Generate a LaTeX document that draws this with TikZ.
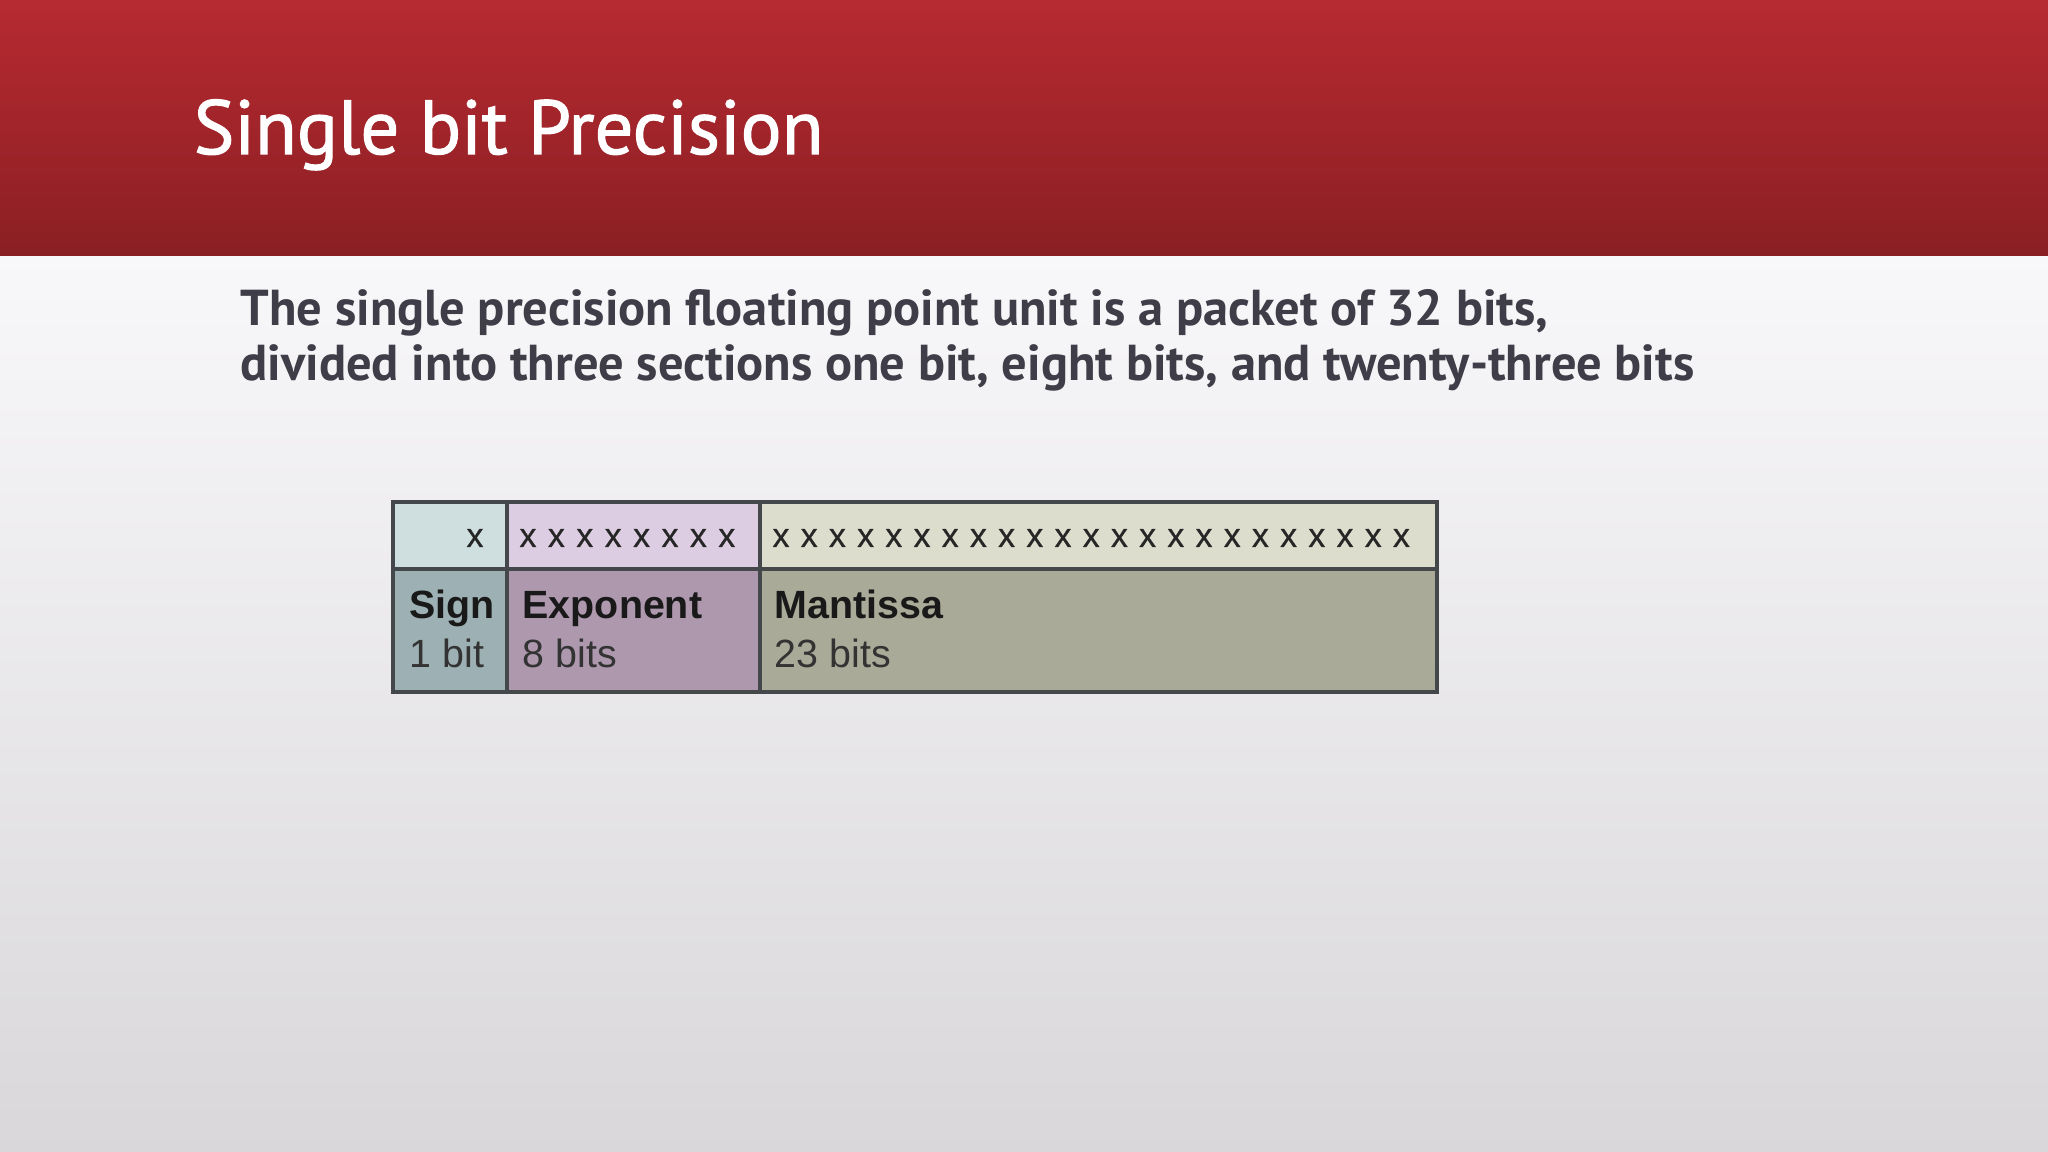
\documentclass[tikz,border=0pt]{standalone}
\usepackage{fontspec}
\setmainfont{Liberation Sans}
\newfontfamily\slidefont{PT Sans}

\definecolor{bandtop}{HTML}{B72A31}
\definecolor{bandbot}{HTML}{8A1F23}
\definecolor{pagetop}{HTML}{F8F7F9}
\definecolor{pagebot}{HTML}{D9D7D9}
\definecolor{bodytext}{HTML}{3E3D48}
\definecolor{signlt}{HTML}{CFDEDF}
\definecolor{explt}{HTML}{DDCDE2}
\definecolor{mantlt}{HTML}{DDDDCE}
\definecolor{signdk}{HTML}{9DB0B3}
\definecolor{expdk}{HTML}{AD98AE}
\definecolor{mantdk}{HTML}{AAAA98}
\definecolor{gridline}{HTML}{45484A}

\tikzset{
  bodyline/.style={anchor=base west,inner sep=0pt,text=bodytext,
    font=\slidefont\bfseries\fontsize{14.35}{18}\selectfont},
  bitx/.style={inner sep=0pt,text=black!85,
    font=\fontsize{9.6}{11}\selectfont\addfontfeature{FakeBold=0.6}},
  fieldname/.style={anchor=base west,inner sep=0pt,text=black!90,
    font=\bfseries\fontsize{11.2}{13}\selectfont},
  fieldsize/.style={anchor=base west,inner sep=0pt,text=black!80,
    font=\fontsize{11.2}{13}\selectfont},
  gridline/.style={draw=gridline,line width=0.035cm}
}

\begin{document}
\begin{tikzpicture}[x=0.01cm,y=-0.01cm]
\useasboundingbox (0,0) rectangle (2048,1152);
\shade[top color=pagetop,bottom color=pagebot] (0,256) rectangle (2048,1152);
\shade[top color=bandtop,bottom color=bandbot] (0,0) rectangle (2048,256);
\node (title) [anchor=base west,inner sep=0pt,text=white,
  font=\slidefont\fontsize{21.8}{26}\selectfont\addfontfeature{FakeBold=1.4}]
  at (193,154) {Single bit Precision};
\node (line1) [bodyline] at (240,326) {The single precision floating point unit is a packet of 32 bits,};
\node (line2) [bodyline] at (240,381) {divided into three sections one bit, eight bits, and twenty-three bits};
% bit fields
\fill[signlt] (393,502) rectangle (507,569);
\fill[explt] (507,502) rectangle (760,569);
\fill[mantlt] (760,502) rectangle (1437,569);
\fill[signdk] (393,569) rectangle (507,692);
\fill[expdk] (507,569) rectangle (760,692);
\fill[mantdk] (760,569) rectangle (1437,692);
\draw[gridline] (393,502) rectangle (1437,692);
\draw[gridline] (393,569) -- (1437,569);
\draw[gridline] (507,502) -- (507,692);
\draw[gridline] (760,502) -- (760,692);
\node (signbit) [bitx] at (475,538) {x};
\foreach \i in {0,...,7}
  \node (expbit\i) [bitx] at (528+28.4*\i,538) {x};
\foreach \i in {0,...,22}
  \node (mantbit\i) [bitx] at (781+28.2*\i,538) {x};
\node (sign) [fieldname] at (409,618) {Sign};
\node (signsize) [fieldsize] at (409,667) {1 bit};
\node (exponent) [fieldname] at (522,618) {Exponent};
\node (expsize) [fieldsize] at (522,667) {8 bits};
\node (mantissa) [fieldname] at (774,618) {Mantissa};
\node (mantsize) [fieldsize] at (774,667) {23 bits};
\end{tikzpicture}
\end{document}
